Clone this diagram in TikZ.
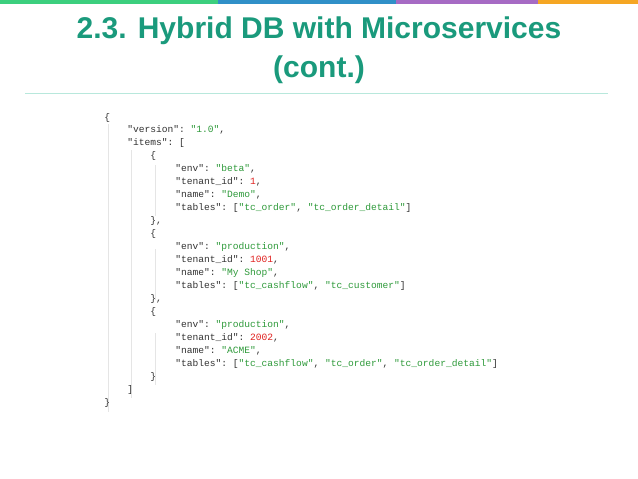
\documentclass[tikz,border=0pt]{standalone}
\usepackage{fontspec}
\setmainfont{Liberation Sans}
\setmonofont{Liberation Mono}
\definecolor{tgreen}{HTML}{1A9A7C}
\definecolor{sgreen}{HTML}{2E9A3A}
\definecolor{nred}{HTML}{E0201E}
\definecolor{keyc}{HTML}{333333}
\definecolor{barg}{HTML}{3CCF7E}
\definecolor{barb}{HTML}{3090C8}
\definecolor{barp}{HTML}{A66BC4}
\definecolor{baro}{HTML}{F5A623}
\definecolor{rulec}{HTML}{B8E8DC}
\newcommand{\St}[1]{\textcolor{sgreen}{"#1"}}
\newcommand{\Nm}[1]{\textcolor{nred}{#1}}
\begin{document}
\begin{tikzpicture}[x=0.75pt,y=-0.75pt,
  cl/.style={anchor=base west,inner sep=0pt,font=\ttfamily\fontsize{7.2}{8}\selectfont,text=keyc},
  guide/.style={draw=black!10,line width=0.5pt}]
\useasboundingbox (0,0) rectangle (638,478);
\fill[white] (0,0) rectangle (638,478);
\fill[barg] (0,0) rectangle (218,4);
\fill[barb] (218,0) rectangle (396,4);
\fill[barp] (396,0) rectangle (538,4);
\fill[baro] (538,0) rectangle (638,4);
\node[font=\bfseries\fontsize{22.5}{29}\selectfont,text=tgreen,align=center] (title) at (319,50) {2.3. Hybrid DB with Microservices\\(cont.)};
\draw[rulec,line width=0.6pt] (25,93) -- (608,93);
% guides
\draw[guide] (108,124) -- (108,412);
\draw[guide] (131,150) -- (131,398);
\draw[guide] (155,165) -- (155,216);
\draw[guide] (155,249) -- (155,300);
\draw[guide] (155,333) -- (155,385);
\def\yy#1{116+12.97*#1}
\node[cl] (l0) at (104,{\yy{0}+4}) {\{};
\node[cl] (l1) at (127,{\yy{1}+4}) {"version": \St{1.0},};
\node[cl] (l2) at (127,{\yy{2}+4}) {"items": [};
\node[cl] (l3) at (150,{\yy{3}+4}) {\{};
\node[cl] (l4) at (175,{\yy{4}+4}) {"env": \St{beta},};
\node[cl] (l5) at (175,{\yy{5}+4}) {"tenant\_id": \Nm{1},};
\node[cl] (l6) at (175,{\yy{6}+4}) {"name": \St{Demo},};
\node[cl] (l7) at (175,{\yy{7}+4}) {"tables": [\St{tc\_order}, \St{tc\_order\_detail}]};
\node[cl] (l8) at (150,{\yy{8}+4}) {\},};
\node[cl] (l9) at (150,{\yy{9}+4}) {\{};
\node[cl] (l10) at (175,{\yy{10}+4}) {"env": \St{production},};
\node[cl] (l11) at (175,{\yy{11}+4}) {"tenant\_id": \Nm{1001},};
\node[cl] (l12) at (175,{\yy{12}+4}) {"name": \St{My Shop},};
\node[cl] (l13) at (175,{\yy{13}+4}) {"tables": [\St{tc\_cashflow}, \St{tc\_customer}]};
\node[cl] (l14) at (150,{\yy{14}+4}) {\},};
\node[cl] (l15) at (150,{\yy{15}+4}) {\{};
\node[cl] (l16) at (175,{\yy{16}+4}) {"env": \St{production},};
\node[cl] (l17) at (175,{\yy{17}+4}) {"tenant\_id": \Nm{2002},};
\node[cl] (l18) at (175,{\yy{18}+4}) {"name": \St{ACME},};
\node[cl] (l19) at (175,{\yy{19}+4}) {"tables": [\St{tc\_cashflow}, \St{tc\_order}, \St{tc\_order\_detail}]};
\node[cl] (l20) at (150,{\yy{20}+4}) {\}};
\node[cl] (l21) at (127,{\yy{21}+4}) {]};
\node[cl] (l22) at (104,{\yy{22}+4}) {\}};
\end{tikzpicture}
\end{document}
